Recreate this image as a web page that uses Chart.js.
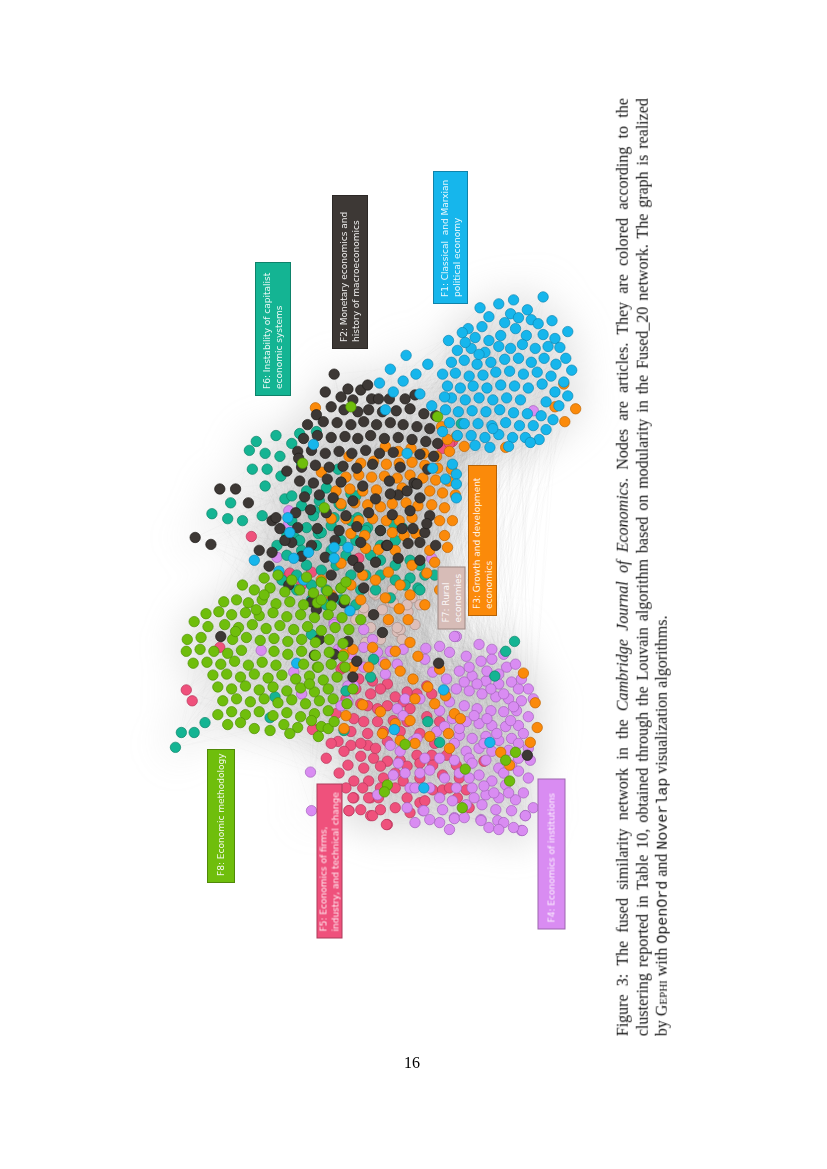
<!DOCTYPE html>
<html>
<head>
<meta charset="utf-8">
<script src="https://cdn.jsdelivr.net/npm/chart.js@4.4.1/dist/chart.umd.min.js"></script>
<style>
  html, body { margin: 0; padding: 0; background: #fff; }
  #page { position: relative; width: 827px; height: 1169px; overflow: hidden; }
  #wrap { position: absolute; left: 0; top: 0; width: 827px; height: 1169px; }
  .lbl {
    position: absolute; box-sizing: border-box; transform: rotate(-90deg);
    display: flex; flex-direction: column; justify-content: center;
    padding-left: 6px; color: rgba(255,255,255,0.92); font-family: "DejaVu Sans", sans-serif;
    font-size: 9px; line-height: 12px; white-space: nowrap; border: 1px solid rgba(0,0,0,0.28);
  }
  #caption {
    position: absolute; width: 938px; left: 174px; top: 537px; transform: rotate(-90deg);
    font-family: "Liberation Serif", serif; font-size: 16px; line-height: 19.5px; color: #111;
  }
  #caption .j { text-align: justify; text-align-last: justify; }
  .mono { font-family: "Liberation Mono", monospace; font-size: 15px; }
  #pnum { position: absolute; left: 404px; top: 1054px; font-family: "Liberation Serif", serif; font-size: 16px; }
</style>
</head>
<body>
<div id="page">
  <div id="wrap"><canvas id="net"></canvas></div>
  <div id="labels"></div>
  <div id="caption">
    <div class="j">Figure 3: The fused similarity network in the <i>Cambridge Journal of Economics</i>. Nodes are articles. They are colored according to the</div>
    <div class="j">clustering reported in Table 10, obtained through the Louvain algorithm based on modularity in the Fused_20 network. The graph is realized</div>
    <div>by <span style="font-variant: small-caps">Gephi</span> with <span class="mono">OpenOrd</span> and <span class="mono">Noverlap</span> visualization algorithms.</div>
  </div>
  <div id="pnum">16</div>
</div>
<script>
// clusters (page coordinates)
const clusterNames = ["F8", "F1", "F2", "F3", "F6", "F4", "F5", "F7"];
const clusterColors = ["#6fbe0c", "#16b6ec", "#3d3835", "#fb8a0a", "#14b493", "#d98cf2", "#ef517c", "#dcbfba"];
const clusterBorders = ["#4f8f05", "#0d86b3", "#1f1c1a", "#c06400", "#0b8468", "#a461bb", "#b8355a", "#a88c87"];

const f8Points = [
  [262,578],[276,575],[290,580],[305,577],[320,582],[240,585],[252,590],[268,588],[283,592],[298,590],[312,593],[326,591],[340,588],
  [221,602],[234,600],[246,603],[260,600],[274,604],[288,602],[302,605],[316,603],[330,606],[344,600],
  [203,614],[216,612],[229,615],[243,613],[257,616],[271,613],[285,617],[299,615],[313,618],[327,615],[341,618],
  [191,622],[205,627],[222,625],[236,628],[250,625],[264,629],[278,626],[292,630],[306,627],[320,631],[334,628],[348,630],
  [184,640],[198,638],[230,640],[244,638],[258,641],[272,639],[286,642],[300,640],[314,643],[328,640],[342,644],
  [183,652],[197,650],[211,652],[225,654],[239,651],[272,652],[286,655],[300,652],[314,656],[328,653],[342,657],
  [190,664],[204,663],[218,665],[232,662],[246,666],[260,663],[274,666],[302,665],[316,668],[330,665],[344,668],
  [210,676],[224,675],[238,678],[252,675],[266,679],[280,676],[294,680],[308,677],[322,681],[336,678],
  [215,688],[229,690],[243,687],[257,691],[271,688],[285,692],[299,689],[313,693],[327,690],
  [220,702],[234,700],[248,703],[262,700],[276,704],[290,701],[304,705],[318,702],[332,700],
  [215,716],[229,713],[243,716],[257,713],[271,717],[285,714],[299,718],[313,715],[327,712],
  [225,726],[238,724],[252,730],[268,732],[282,726],[296,729],[310,722],[320,728],[288,735],[317,738],[327,730],[333,723],
  [308,685],[317,668],[350,405],[301,462],[438,415],[323,507],[345,582],[320,600],[517,754],[507,762],[511,783],
  [466,771],[463,810],[405,746],[387,787],[384,794],[360,620],[352,690],[346,705],[262,595],[254,610],[233,632]
];
const f1Points = [
  [545,294],[515,297],[500,301],[481,305],[529,307],[554,318],[490,314],[512,311],[533,317],[570,329],[540,321],[483,324],
  [469,326],[463,330],[449,338],[502,333],[517,326],[557,336],[476,335],[490,338],[528,333],[545,332],[562,345],[472,346],
  [458,348],[486,350],[500,344],[512,346],[524,342],[537,346],[550,344],[568,356],[452,360],[465,358],[478,362],[492,360],
  [506,357],[520,356],[533,360],[546,356],[558,362],[574,368],[443,372],[456,371],[470,374],[484,373],[497,370],[511,369],
  [525,372],[539,370],[553,374],[566,380],[448,384],[461,386],[474,384],[488,386],[502,383],[516,384],[530,386],[544,382],
  [557,390],[570,394],[452,396],[466,398],[480,396],[494,398],[508,396],[522,398],[548,400],[561,404],[446,408],[459,410],
  [473,409],[487,410],[501,408],[515,411],[529,412],[543,414],[555,418],[450,421],[465,422],[479,422],[493,424],[507,421],
  [521,424],[535,424],[548,428],[458,434],[472,434],[486,436],[500,433],[514,436],[527,436],[541,438],[476,444],[491,446],
  [510,445],[532,441],[494,427],[520,315],[506,320],[466,340],[480,352],[445,395],[443,430],
  [406,353],[390,367],[379,381],[403,379],[393,390],[385,408],[416,372],[428,362],[420,392],[432,404],
  [453,463],[457,473],[446,478],[457,483],[457,497],[433,467],[407,452],[312,443],
  [277,571],[292,558],[302,580],[349,611],[307,552],[288,532],[286,517],[333,547],[347,547],[333,558],[252,560],[295,664],
  [444,691],[491,744],[424,790],[394,731]
];
const f2Points = [
  [333,372],[324,390],[347,387],[360,388],[367,383],[371,397],[378,397],[389,397],[405,397],[415,393],[340,395],[352,398],
  [315,413],[306,423],[330,405],[343,408],[357,410],[368,408],[382,410],[396,409],[410,407],[424,412],[436,414],
  [322,420],[336,421],[350,423],[363,420],[376,423],[390,421],[403,423],[417,425],[430,427],
  [302,437],[316,434],[330,436],[344,435],[357,437],[370,434],[384,437],[398,436],[412,438],[426,440],[438,442],
  [296,450],[310,449],[324,452],[338,450],[351,452],[365,449],[379,452],[393,451],[420,453],[434,455],
  [300,466],[314,464],[328,466],[342,465],[356,467],[372,463],[400,466],[428,468],
  [298,480],[312,482],[326,478],[340,481],[362,485],[389,480],[414,482],
  [303,496],[318,494],[332,497],[352,500],[375,498],[398,494],[420,497],
  [294,512],[309,509],[325,512],[345,515],[368,512],[392,514],[410,510],[430,515],
  [296,527],[316,528],[338,530],[356,526],[380,530],[402,528],[425,532],
  [290,542],[310,545],[334,540],[360,542],[386,545],[408,543],[436,545],
  [300,556],[324,557],[352,560],[375,562],[398,558],[420,560],
  [390,493],[407,490],[417,483],[427,523],[413,528],[420,542],[387,545],[358,567],[332,598],[315,610],[373,615],[382,633],
  [217,488],[233,488],[246,502],[192,537],[208,544],[257,550],[270,520],[274,517],[297,457],[285,470],[278,528],
  [283,540],[270,552],[267,566],[287,585],[310,602],[330,575],[343,603],[363,588],[318,640],[313,656],[356,662],
  [352,678],[439,664],[529,757],[218,637],[347,642],[333,655]
];
const f3Points = [
  [385,445],[398,450],[411,447],[424,452],[437,455],[450,450],
  [360,462],[373,460],[386,463],[399,462],[412,461],[425,464],[438,467],[452,468],
  [345,476],[358,474],[371,476],[384,475],[397,477],[410,474],[423,477],[436,479],[449,480],
  [335,490],[349,488],[362,490],[376,489],[402,487],[430,490],[443,492],[456,494],
  [340,503],[354,502],[367,504],[380,506],[392,503],[406,502],[418,505],[432,504],[445,507],
  [330,518],[345,518],[358,520],[372,518],[386,520],[399,520],[412,517],[440,520],[453,520],
  [350,533],[364,535],[392,532],[404,535],[416,533],[445,535],
  [365,548],[378,549],[395,550],[430,550],[448,547],
  [340,563],[362,575],[388,572],[412,565],[435,562],
  [320,580],[350,585],[375,580],[400,585],[427,573],[440,590],
  [330,595],[360,600],[385,598],[410,595],[425,605],[445,600],
  [399,609],[408,620],[388,620],[410,643],[418,657],[314,406],[442,425],[457,435],[465,445],[448,438],[320,471],[348,455],
  [566,382],[578,407],[567,420],[557,405],[507,446],
  [343,655],[352,650],[372,648],[395,652],[440,670],[352,668],[368,668],[385,665],[400,672],[413,680],[428,688],
  [415,700],[435,705],[446,697],[455,715],[449,735],[430,738],[415,745],[400,742],[382,735],[395,725],[410,722],
  [362,706],[345,717],[343,730],[450,750],[461,720],[380,713],
  [525,674],[537,704],[539,729],[532,744],[502,754],[511,767]
];
const f6Points = [
  [254,440],[274,434],[298,432],[247,449],[263,452],[278,455],[290,442],[250,468],[265,468],[279,475],[263,485],[228,502],
  [209,513],[225,518],[260,515],[283,498],[240,520],[300,462],[315,430],[337,468],[325,487],[350,493],[338,503],[313,510],
  [333,517],[357,517],[367,527],[380,530],[393,523],[402,527],[293,537],[317,533],[462,422],[418,588],
  [290,495],[305,490],[318,500],[300,505],[312,515],[330,525],[320,532],[305,527],[290,520],[285,535],[298,540],[315,545],
  [330,550],[345,555],[340,540],[355,540],[365,530],[350,520],[370,555],[380,560],[395,565],[365,575],[380,575],[395,580],
  [410,578],[350,575],[335,565],[320,570],[305,565],[295,575],[280,580],[295,590],[310,585],[325,590],[340,588],[310,600],
  [325,605],[340,600],[355,605],[360,590],[375,590],[390,598],[405,585],[420,590],[425,575],[410,560],[395,540],[380,545],
  [420,565],[435,575],[448,580],[300,550],[285,555],[275,545],[340,505],[355,495],
  [202,724],[191,734],[178,734],[172,749],[273,698],[268,719],
  [516,642],[507,652],[496,677],[428,723],[440,744],[343,732],[345,692],[373,660],[370,678],[310,635]
];
const f4Points = [
  [457,637],[480,645],[493,650],[426,649],[440,647],[467,657],[450,653],[482,662],[508,668],[517,665],[433,673],[447,680],
  [460,672],[473,677],[487,682],[500,685],[513,683],[530,690],[457,690],[470,692],[483,695],[497,698],[510,700],[523,702],
  [450,703],[465,707],[478,710],[492,712],[505,713],[518,712],[530,718],[453,720],[467,723],[480,725],[493,727],[507,728],
  [520,727],[460,737],[473,740],[487,738],[500,742],[513,740],[525,735],[467,753],[480,750],[493,753],[500,770],[513,767],
  [520,773],[480,777],[493,783],[507,787],[457,790],[473,790],[487,797],[500,800],[517,802],[440,800],[453,803],[467,807],
  [483,807],[497,812],[513,813],[527,818],[523,833],[482,822],[455,820],[443,812],[423,813],[407,810],[393,777],[400,753],
  [413,743],[390,747],[377,797],[337,650],[350,655],[363,648],[377,653],[390,652],[403,650],[383,663],[397,665],[363,668],
  [353,687],[347,703],[397,710],[403,717],[424,813],[455,821],[482,823],[499,823],[527,818],[524,833],[309,774],[310,813],
  [535,409],[259,651],[287,510],[287,523],[275,557],[432,558],[455,637],[323,603],[333,623],[342,648],[292,673],[300,695],
  [340,707],[347,687],[363,630],[333,625],[372,640],[420,700],[437,733],[445,780],[425,760],[410,790],[470,760],[530,750],
  [425,660],[493,660],[505,655],[445,692],[520,690],[440,712],[512,722],[445,728],[455,745],[487,762],[473,765],[460,775],
  [505,775],[530,780],[525,795],[510,795],[495,795],[475,800],[430,790],[420,775],[405,775],[398,765],[465,820],[490,830],
  [505,825],[440,825],[415,825],[520,745],[532,762],[478,685],[492,690],[505,695],[465,683],[515,708],[485,745],[430,822],
  [500,832],[515,830],[450,832],[470,668],[488,672],[500,675],[523,680],[535,700],[475,717],[488,720],[460,730],[498,735],
  [510,752],[520,760],[440,760],[430,772],[455,762],[415,790],[470,780],[485,788],[535,810],[417,740],[405,700],[385,675]
];
const f5Points = [
  [387,685],[380,690],[360,705],[367,707],[377,710],[387,707],[403,703],[427,687],[432,695],[417,695],[407,693],[353,720],
  [363,723],[377,723],[393,722],[350,733],[367,735],[383,733],[350,747],[367,747],[387,743],[343,753],[360,758],[373,760],
  [387,763],[400,762],[417,757],[432,757],[447,757],[347,767],[363,770],[380,768],[407,768],[433,767],[457,767],[353,783],
  [368,783],[383,780],[403,783],[420,780],[443,777],[460,780],[353,800],[370,800],[378,800],[407,800],[433,792],[443,792],
  [467,792],[370,818],[387,827],[348,813],[470,810],[485,763],[312,730],[337,743],[340,670],[400,733],[407,723],[427,718],
  [440,723],[372,818],[386,827],[348,813],[352,800],[368,800],[355,690],[370,695],[395,790],[420,805],[360,745],[375,750],
  [345,700],[335,715],[358,680],[372,682],[395,698],[410,710],[420,735],[435,745],[450,790],[395,810],[410,815],[360,812],
  [345,790],[338,775],[325,760],[330,745],[420,765],[395,775],[380,790],[362,790],[458,800],[380,812],[425,803],
  [443,447],[453,440],[249,536],[183,691],[189,702],[217,648],[311,731],[287,575],[310,572],[353,560],[312,597],[358,558],
  [300,585],[312,595],[288,573],[342,668],[450,442]
];
const f7Points = [
  [363,613],[373,615],[397,632],[400,630],[375,595],[390,602],[370,628],[397,628],[382,610],[388,622],[408,612],[415,625],
  [420,605],[380,640],[365,643],[402,640],[355,620],[392,590],[412,598],[373,593],[393,603],[407,605],[363,608]
];

const clusterPoints = [f8Points, f1Points, f2Points, f3Points, f6Points, f4Points, f5Points, f7Points];

const labelBoxes = [
  { text: ["F1: Classical&nbsp; and Marxian", "political economy"], color: "#16b6ec", x: 433, y: 171, w: 35, h: 133 },
  { text: ["F2: Monetary economics and", "history of macroeconomics"], color: "#3d3835", x: 332, y: 195, w: 36, h: 154 },
  { text: ["F6: Instability of capitalist", "economic systems"], color: "#14b493", x: 255, y: 262, w: 36, h: 134 },
  { text: ["F3: Growth and development", "economics"], color: "#fb8a0a", x: 468, y: 465, w: 29, h: 151 },
  { text: ["F7: Rural", "economies"], color: "#d7bcb7", x: 437, y: 566, w: 28, h: 63 },
  { text: ["F8: Economic methodology"], color: "#6fbe0c", x: 207, y: 749, w: 28, h: 134 },
  { text: ["F5: Economics of firms,", "industry, and technical change"], color: "#ef517c", x: 316, y: 783, w: 26, h: 155 },
  { text: ["F4: Economics of institutions"], color: "#d98cf2", x: 537, y: 778, w: 28, h: 151 }
];

const labelsDiv = document.getElementById("labels");
labelBoxes.forEach((b) => {
  const d = document.createElement("div");
  d.className = "lbl";
  d.style.width = b.h + "px";
  d.style.height = b.w + "px";
  d.style.left = (b.x + b.w / 2 - b.h / 2) + "px";
  d.style.top = (b.y + b.h / 2 - b.w / 2) + "px";
  d.style.background = b.color;
  d.innerHTML = b.text.map((t) => `<div>${t}</div>`).join("");
  labelsDiv.appendChild(d);
});

// grey haze of edges behind the nodes
const edgePlugin = {
  id: "edges",
  beforeDatasetsDraw(chart) {
    const ctx = chart.ctx;
    const xs = chart.scales.x, ys = chart.scales.y;
    const pts = [];
    chart.data.datasets.forEach((ds) => ds.data.forEach((p) => pts.push([xs.getPixelForValue(p.x), ys.getPixelForValue(p.y)])));
    const n = pts.length;
    const dpr = chart.currentDevicePixelRatio || 1;

    const off = document.createElement("canvas");
    off.width = chart.canvas.width;
    off.height = chart.canvas.height;
    const oc = off.getContext("2d");
    oc.scale(dpr, dpr);
    oc.fillStyle = "rgba(150,150,150,0.022)";
    pts.forEach((p) => {
      oc.beginPath();
      oc.arc(p[0], p[1], 30, 0, Math.PI * 2);
      oc.fill();
    });
    ctx.save();
    ctx.setTransform(1, 0, 0, 1, 0, 0);
    ctx.filter = "blur(" + Math.round(12 * dpr) + "px)";
    ctx.drawImage(off, 0, 0);
    ctx.restore();

    ctx.save();
    ctx.strokeStyle = "rgba(120,120,120,0.018)";
    ctx.lineWidth = 1;
    ctx.beginPath();
    for (let i = 0; i < n; i++) {
      for (let k = 1; k <= 4; k++) {
        const j = (i * 37 + k * 211) % n;
        ctx.moveTo(pts[i][0], pts[i][1]);
        ctx.lineTo(pts[j][0], pts[j][1]);
      }
    }
    ctx.stroke();
    ctx.restore();
  }
};

new Chart(document.getElementById("net"), {
  type: "scatter",
  data: {
    datasets: clusterPoints.map((pts, i) => ({
      label: clusterNames[i],
      data: pts.map((p) => ({ x: p[0], y: p[1] })),
      backgroundColor: clusterColors[i],
      borderColor: clusterBorders[i],
      borderWidth: 0.7,
      pointRadius: 5.2,
    })),
  },
  options: {
    responsive: true,
    maintainAspectRatio: false,
    animation: false,
    layout: { padding: 0 },
    plugins: { legend: { display: false }, tooltip: { enabled: false } },
    scales: {
      x: { type: "linear", min: 0, max: 827, display: false },
      y: { type: "linear", min: 0, max: 1169, reverse: true, display: false },
    },
  },
  plugins: [edgePlugin],
});
</script>
</body>
</html>
